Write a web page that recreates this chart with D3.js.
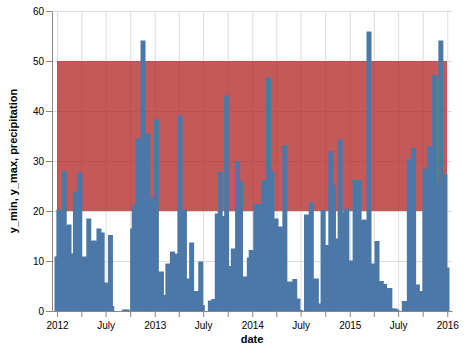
<!DOCTYPE html>
<html lang="en">
<head>
<meta charset="UTF-8">
<title>Precipitation with y_min / y_max band</title>
<script src="https://d3js.org/d3.v7.min.js"></script>
<style>
  body { margin: 0; font-family: "Liberation Sans", Arial, sans-serif; background: #fff; }
  .axis text { font-size: 10px; fill: #000; }
  .axis .domain, .axis .tick line { stroke: #888; }
  .grid line { stroke: #ddd; }
  .axis-title { font-size: 11px; font-weight: bold; fill: #000; }
</style>
</head>
<body>
<svg id="chart" width="465" height="351"></svg>
<script>
// daily precipitation (only the days that shape the outline)
const dates = [
  "2012-01-01","2012-01-08","2012-01-18","2012-01-28","2012-02-06","2012-02-15","2012-02-27","2012-03-10","2012-03-26","2012-04-04","2012-04-13","2012-04-29","2012-05-08","2012-05-18","2012-05-28","2012-06-06","2012-06-18","2012-06-30","2012-07-10","2012-07-19","2012-07-24","2012-08-08","2012-08-21","2012-09-09","2012-09-20","2012-09-29","2012-10-10","2012-10-16","2012-10-31","2012-11-09","2012-11-18","2012-11-27","2012-12-06","2012-12-19","2012-12-29",
  "2013-01-07","2013-01-17","2013-01-26","2013-02-06","2013-02-19","2013-02-27","2013-03-08","2013-03-18","2013-03-27","2013-04-05","2013-04-14","2013-04-22","2013-05-05","2013-05-19","2013-05-28","2013-06-05","2013-06-14","2013-06-22","2013-06-28","2013-07-11","2013-07-28","2013-08-10","2013-08-23","2013-09-03","2013-09-13","2013-09-27","2013-10-06","2013-10-15","2013-10-22","2013-11-07","2013-11-18","2013-11-29","2013-12-06","2013-12-21","2013-12-28",
  "2014-01-06","2014-01-14","2014-01-26","2014-02-04","2014-02-13","2014-02-22","2014-03-03","2014-03-16","2014-03-31","2014-04-16","2014-04-25","2014-05-03","2014-05-12","2014-05-20","2014-05-30","2014-06-09","2014-06-21","2014-06-30","2014-07-09","2014-07-23","2014-08-01","2014-08-10","2014-08-20","2014-08-29","2014-09-09","2014-09-23","2014-10-07","2014-10-22","2014-11-01","2014-11-10","2014-11-26","2014-12-08","2014-12-21",
  "2015-01-05","2015-01-21","2015-02-05","2015-02-14","2015-02-24","2015-03-05","2015-03-14","2015-03-29","2015-04-13","2015-04-29","2015-05-11","2015-05-21","2015-05-31","2015-06-09","2015-06-19","2015-06-26","2015-07-08","2015-07-24","2015-08-02","2015-08-12","2015-08-28","2015-09-11","2015-09-21","2015-09-30","2015-10-09","2015-10-18","2015-10-27","2015-11-05","2015-11-15","2015-11-25","2015-12-08","2015-12-23","2015-12-31"
];
const precipitation = [
  10.9, 20.3, 20.0, 28.0, 17.0, 17.3, 11.5, 23.9, 27.7, 10.5, 10.9, 18.5, 14.0, 14.1, 14.0, 16.5, 15.7, 5.7, 5.5, 15.2, 1.0, 0, 0, 0.3, 0.3, 0, 16.5, 21.2, 34.5, 34.0, 54.1, 35.0, 35.5, 22.7, 22.5,
  38.4, 7.8, 7.9, 3.2, 9.5, 9.4, 11.9, 11.5, 11.4, 39.1, 20.0, 20.3, 6.5, 13.7, 4.0, 4.0, 4.0, 9.9, 1.2, 0, 2.1, 2.4, 19.5, 27.8, 19.0, 43.2, 9.0, 9.0, 12.5, 30.0, 26.0, 4.7, 6.9, 10.7, 12.2,
  12.0, 21.4, 21.4, 21.0, 26.2, 26.0, 46.7, 27.9, 18.5, 16.9, 16.5, 33.2, 5.8, 5.9, 5.8, 6.4, 2.5, 0.2, 0, 19.3, 19.0, 21.7, 6.4, 6.5, 1.5, 20.2, 13.2, 32.0, 25.2, 14.5, 34.3, 19.9, 20.5,
  10.1, 26.2, 26.2, 18.0, 18.3, 18.0, 55.9, 9.5, 14.0, 6.0, 5.4, 4.5, 4.6, 0.5, 0.5, 0.3, 0, 2.0, 2.0, 30.4, 32.6, 5.3, 4.0, 4.0, 28.5, 28.0, 33.0, 32.5, 47.2, 25.5, 54.1, 27.4, 8.7
];
const yMin = 20;
const yMax = 50;
const yTicks = [0, 10, 20, 30, 40, 50, 60];
const xTickLabels = ["2012", "July", "2013", "July", "2014", "July", "2015", "July", "2016"];

const parse = d3.utcParse("%Y-%m-%d");
const data = dates.map((d, i) => ({ date: parse(d), precipitation: precipitation[i] }));

const margin = { top: 11, left: 52 };
const width = 400, height = 300;
const barWidth = 5;

const svg = d3.select("#chart")
  .append("g")
  .attr("transform", `translate(${margin.left},${margin.top})`);

const extent = d3.extent(data, d => d.date);
// bars on a time axis get half a bar of padding on each side
const x = d3.scaleUtc().domain(extent).range([barWidth, width - barWidth]);
const xPad = d3.scaleUtc().domain([x.invert(0), x.invert(width)]).range([0, width]);

const y = d3.scaleLinear().domain([0, 60]).range([height, 0]);

const quarterTicks = d3.utcMonth.every(3).range(parse("2012-01-01"), parse("2016-01-02"));
const tickText = d => {
  const i = quarterTicks.findIndex(t => +t === +d);
  return i % 2 === 0 ? xTickLabels[i / 2] : "";
};

// grid
svg.append("g").attr("class", "grid")
  .selectAll("line").data(quarterTicks).join("line")
  .attr("x1", d => xPad(d) + 0.5).attr("x2", d => xPad(d) + 0.5)
  .attr("y1", 0).attr("y2", height);
svg.append("g").attr("class", "grid")
  .selectAll("line").data(yTicks).join("line")
  .attr("x1", 0).attr("x2", width)
  .attr("y1", d => y(d) + 0.5).attr("y2", d => y(d) + 0.5);

// axes
svg.append("g").attr("class", "axis")
  .attr("transform", `translate(0,${height})`)
  .call(d3.axisBottom(xPad).tickValues(quarterTicks).tickFormat(tickText).tickSizeOuter(0).tickPadding(3))
  .call(g => g.selectAll("text").attr("dy", "0.85em"));

svg.append("g").attr("class", "axis")
  .call(d3.axisLeft(y).tickValues(yTicks).tickSizeOuter(0).tickPadding(2));

// y_min / y_max band
svg.append("rect")
  .attr("x", x(extent[0]))
  .attr("width", x(extent[1]) - x(extent[0]))
  .attr("y", y(yMax))
  .attr("height", y(yMin) - y(yMax))
  .attr("fill", "#b22222")
  .attr("opacity", 0.75);

// bars
svg.append("g")
  .selectAll("rect").data(data).join("rect")
  .attr("x", d => x(d.date) - barWidth / 2)
  .attr("width", barWidth)
  .attr("y", d => y(d.precipitation))
  .attr("height", d => height - y(d.precipitation))
  .attr("fill", "#4c78a8");

// titles
svg.append("text").attr("class", "axis-title")
  .attr("x", width / 2).attr("y", height + 32)
  .attr("text-anchor", "middle")
  .text("date");

svg.append("text").attr("class", "axis-title")
  .attr("transform", `translate(${-35},${height / 2}) rotate(-90)`)
  .attr("text-anchor", "middle")
  .text("y_min, y_max, precipitation");
</script>
</body>
</html>
